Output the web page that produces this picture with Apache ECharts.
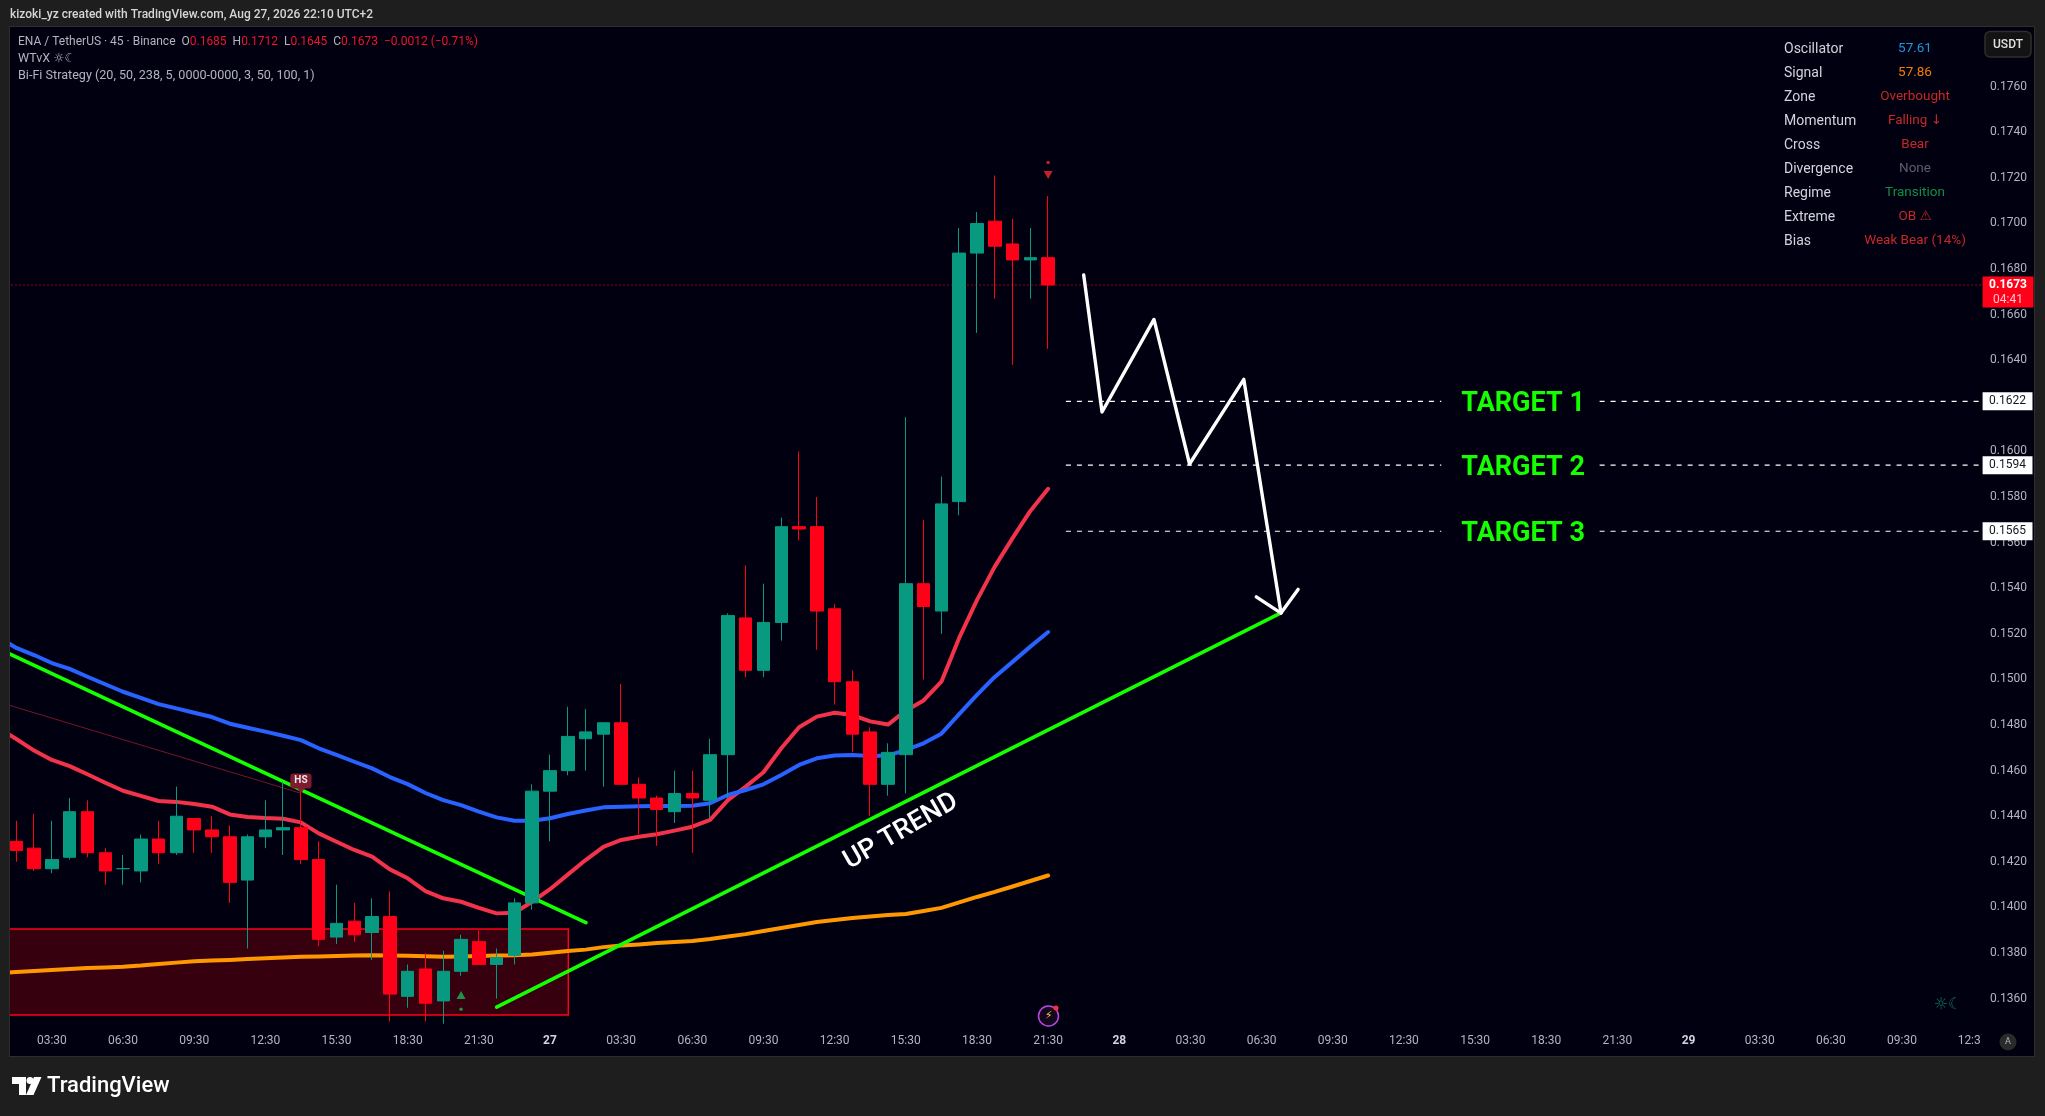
<!DOCTYPE html>
<html><head><meta charset="utf-8">
<style>html,body{margin:0;padding:0;background:#1e1e1e}#c{width:2045px;height:1116px}</style>
<script src="https://cdn.jsdelivr.net/npm/echarts@6/dist/echarts.min.js"></script>
</head><body><div id="c"></div>
<script>
const FONT='Roboto, sans-serif';
const tickLabels=['03:30','06:30','09:30','12:30','15:30','18:30','21:30','27','03:30','06:30','09:30','12:30','15:30','18:30','21:30','28','03:30','06:30','09:30','12:30','15:30','18:30','21:30','29','03:30','06:30','09:30','12:3'];
const yTicks=[0.136,0.138,0.14,0.142,0.144,0.146,0.148,0.15,0.152,0.154,0.156,0.158,0.16,0.162,0.164,0.166,0.168,0.17,0.172,0.174,0.176];
const opens =[0.1429,0.1426,0.1417,0.1422,0.1442,0.1424,0.1417,0.1416,0.1430,0.1424,0.1439,0.1434,0.1431,0.1412,0.1431,0.1434,0.1435,0.1421,0.1387,0.1394,0.1389,0.1396,0.1361,0.1373,0.1359,0.1372,0.1385,0.1375,0.1379,0.1402,0.1451,0.1460,0.1474,0.1476,0.1481,0.1454,0.1448,0.1442,0.1450,0.1447,0.1467,0.1527,0.1504,0.1525,0.1567,0.1567,0.1531,0.1499,0.1477,0.1454,0.1467,0.1542,0.1530,0.1578,0.1687,0.1701,0.1691,0.1684,0.1685];
const closes=[0.1425,0.1417,0.1421,0.1442,0.1424,0.1416,0.1417,0.1430,0.1424,0.1440,0.1434,0.1431,0.1411,0.1431,0.1434,0.1435,0.1421,0.1386,0.1393,0.1388,0.1396,0.1362,0.1372,0.1358,0.1372,0.1386,0.1375,0.1378,0.1402,0.1451,0.1460,0.1475,0.1477,0.1481,0.1454,0.1448,0.1443,0.1450,0.1448,0.1467,0.1528,0.1504,0.1525,0.1567,0.1566,0.1530,0.1499,0.1476,0.1454,0.1468,0.1542,0.1532,0.1577,0.1687,0.1700,0.1690,0.1684,0.1685,0.1673];
const highs =[0.1438,0.1441,0.1438,0.1448,0.1447,0.1426,0.1423,0.1432,0.1438,0.1453,0.1439,0.1440,0.1436,0.1432,0.1447,0.1455,0.1451,0.1429,0.1410,0.1402,0.1404,0.1407,0.1375,0.1380,0.1381,0.1388,0.1390,0.1382,0.1404,0.1454,0.1467,0.1488,0.1487,0.1481,0.1498,0.1457,0.1449,0.1460,0.1460,0.1474,0.1529,0.1550,0.1542,0.1571,0.1600,0.1580,0.1533,0.1504,0.1479,0.1472,0.1615,0.1570,0.1589,0.1698,0.1705,0.1721,0.1702,0.1698,0.1712];
const lows  =[0.1420,0.1416,0.1415,0.1421,0.1422,0.1410,0.1410,0.1411,0.1419,0.1423,0.1424,0.1424,0.1402,0.1382,0.1426,0.1423,0.1419,0.1383,0.1384,0.1385,0.1377,0.1350,0.1356,0.1350,0.1349,0.1370,0.1375,0.1360,0.1375,0.1399,0.1429,0.1458,0.1460,0.1453,0.1454,0.1432,0.1427,0.1437,0.1424,0.1439,0.1448,0.1501,0.1501,0.1517,0.1561,0.1513,0.1489,0.1468,0.1440,0.1449,0.1450,0.1500,0.1520,0.1572,0.1652,0.1667,0.1638,0.1667,0.1645];
// Moving averages: first value sits one bar left of the first candle
const maRed=[0.14787,0.14739,0.14688,0.14647,0.14620,0.14584,0.14547,0.14512,0.14489,0.14467,0.14463,0.14454,0.14442,0.14408,0.14397,0.14392,0.14389,0.14373,0.14325,0.14288,0.14252,0.14223,0.14167,0.14128,0.14072,0.14040,0.14025,0.13998,0.13974,0.13977,0.14025,0.14080,0.14144,0.14208,0.14266,0.14296,0.14310,0.14321,0.14337,0.14354,0.14384,0.14471,0.14530,0.14593,0.14698,0.14790,0.14837,0.14854,0.14844,0.14816,0.14802,0.14863,0.14908,0.14990,0.15182,0.15348,0.15495,0.15620,0.15739,0.15836];
const maBlue=[0.15186,0.15138,0.15107,0.15072,0.15046,0.15012,0.14979,0.14946,0.14919,0.14892,0.14873,0.14854,0.14835,0.14806,0.14788,0.14771,0.14753,0.14734,0.14698,0.14669,0.14639,0.14610,0.14572,0.14541,0.14502,0.14471,0.14449,0.14420,0.14395,0.14380,0.14380,0.14391,0.14410,0.14425,0.14439,0.14442,0.14444,0.14445,0.14445,0.14446,0.14457,0.14493,0.14515,0.14540,0.14581,0.14625,0.14654,0.14666,0.14669,0.14664,0.14666,0.14691,0.14720,0.14762,0.14848,0.14932,0.15011,0.15077,0.15144,0.15208];
const maOrange=[0.13712,0.13717,0.13721,0.13726,0.13730,0.13734,0.13737,0.13740,0.13745,0.13752,0.13758,0.13764,0.13767,0.13770,0.13774,0.13777,0.13780,0.13784,0.13785,0.13787,0.13789,0.13790,0.13789,0.13788,0.13786,0.13784,0.13785,0.13787,0.13789,0.13790,0.13794,0.13801,0.13809,0.13815,0.13826,0.13833,0.13838,0.13844,0.13848,0.13853,0.13862,0.13873,0.13883,0.13897,0.13910,0.13923,0.13936,0.13945,0.13954,0.13960,0.13967,0.13971,0.13984,0.13998,0.14022,0.14046,0.14068,0.14092,0.14116,0.14140];
const trendDown=[[-1,0.15135],[32.02,0.13933]];
const trendUp=[[27,0.13563],[71.06,0.15291]];
const thinRed=[[-1,0.14901],[15.95,0.14502]];
const arrowPath=[[60,0.16774],[61.03,0.16173],[63.95,0.16579],[65.95,0.15945],[69,0.16316],[71.09,0.15291]];
const arrowHead=[[69.7,0.15362],[71.09,0.15291],[72.05,0.15395]];
const targets=[0.1622,0.1594,0.1565];
const targetNames=['TARGET 1','TARGET 2','TARGET 3'];
const lastPrice=0.1673, countdown='04:41';
const zoneBox=[[-1,0.13905],[31.03,0.13528]];
const tableLabels=['Oscillator','Signal','Zone','Momentum','Cross','Divergence','Regime','Extreme','Bias'];
const tableValues=['57.61','57.86','Overbought','Falling ↓','Bear','None','Transition','OB ⚠','Weak Bear (14%)'];
const tableColors=['#1e96e0','#f57c00','#c62828','#c62828','#c62828','#5d5f6b','#0f8f45','#c62828','#c62828'];

const categories=Array.from({length:111},(_,i)=>(i>=2&&(i-2)%4===0)?tickLabels[(i-2)/4]:'');
const indexed=a=>a.map((v,i)=>[i-1,v]);
const lineSeries=(name,data,color,width,z,extra)=>Object.assign({name,type:'line',xAxisIndex:1,data,symbol:'none',silent:true,z,
  lineStyle:{color,width,cap:'round',join:'round'}},extra||{});

const series=[
 lineSeries('zone',[],'#000',0,1,{markArea:{silent:true,itemStyle:{color:'#36000f',borderColor:'#ff0018',borderWidth:1.5},
   data:[[{xAxis:zoneBox[0][0],yAxis:zoneBox[0][1]},{xAxis:zoneBox[1][0],yAxis:zoneBox[1][1]}]]}}),
 lineSeries('thin',thinRed,'#7a1526',1,2),
 lineSeries('lastPrice',[[-0.5,lastPrice],[110.5,lastPrice]],'#ff0018',1,2,{lineStyle:{color:'#ff0018',width:1,type:[1.2,2.8]}}),
 lineSeries('orange',indexed(maOrange),'#ff9800',4,3),
 lineSeries('red',indexed(maRed),'#f2334b',4,3),
 lineSeries('blue',indexed(maBlue),'#2962ff',4,3),
 lineSeries('trendDown',trendDown,'#14ff00',3.6,4),
 lineSeries('trendUp',trendUp,'#14ff00',3.6,4),
 lineSeries('arrow',arrowPath,'#ffffff',3.4,7),
 lineSeries('arrowHead',arrowHead,'#ffffff',3.4,7),
 {type:'candlestick',xAxisIndex:0,z:5,barWidth:13,silent:true,
  data:opens.map((o,i)=>[o,closes[i],lows[i],highs[i]]),
  itemStyle:{color:'#089981',color0:'#ff0018',borderColor:'#089981',borderColor0:'#ff0018',borderWidth:1}}
];
targets.forEach((t,i)=>{
 series.push(lineSeries('t'+i,[[59,t],[80.1,t],null,[89,t],[110.5,t]],'#fff',1.2,6,{connectNulls:false,lineStyle:{color:'#fff',width:1.2,type:[5,6]}}));
});
const noSym={symbol:'circle',symbolSize:1,itemStyle:{color:'rgba(0,0,0,0)',opacity:1}};
const annotations=[
 ...targets.map((t,i)=>({value:[84.7,t],...noSym,label:{show:true,position:'inside',offset:[0,3],formatter:targetNames[i],color:'#14ff00',fontSize:27,fontWeight:700,fontFamily:FONT}})),
 ...targets.map(t=>({value:[110.5,t],...noSym,label:{show:true,position:'right',distance:0,formatter:t.toFixed(4),backgroundColor:'#ffffff',color:'#131722',fontSize:12,fontFamily:FONT,lineHeight:18,padding:[0,6.5]}})),
 {value:[110.5,lastPrice],...noSym,label:{show:true,position:'right',distance:0,offset:[0,7],padding:[1,6.5],
   formatter:'{a|'+lastPrice.toFixed(4)+'}\n{b|'+countdown+'}',backgroundColor:'#ff0018',
   rich:{a:{color:'#fff',fontSize:12,fontWeight:700,fontFamily:FONT,lineHeight:15,align:'center'},b:{color:'#ffc9cf',fontSize:12,fontFamily:FONT,lineHeight:14,align:'center'}}}},
 {value:[49.6,0.14342],...noSym,label:{show:true,position:'inside',offset:[1,3],formatter:'UP TREND',rotate:30,color:'#ffffff',fontSize:27,fontWeight:500,fontFamily:FONT}},
 {value:[16,0.14515],symbol:'triangle',symbolRotate:180,symbolSize:[10,7],itemStyle:{color:'#8a1c30',opacity:1}},
 {value:[16,0.14555],...noSym,label:{show:true,position:'inside',formatter:'HS',backgroundColor:'#7f1b2f',borderRadius:3,padding:[0,4],lineHeight:15,color:'#e8e8ea',fontSize:10,fontWeight:700,fontFamily:FONT}},
 {value:[25,0.13616],symbol:'triangle',symbolSize:[9,8],itemStyle:{color:'#1f9148',opacity:1}},
 {value:[25,0.13553],symbol:'circle',symbolSize:3.5,itemStyle:{color:'#1f9148',opacity:1}},
 {value:[58,0.17212],symbol:'triangle',symbolRotate:180,symbolSize:[9,8],itemStyle:{color:'#c3202b',opacity:1}},
 {value:[58,0.17267],symbol:'circle',symbolSize:3.5,itemStyle:{color:'#c3202b',opacity:1}}
];
series.push({type:'scatter',xAxisIndex:1,z:9,clip:false,silent:true,itemStyle:{opacity:1},data:annotations});

const g=[];
const txt=(x,y,text,o)=>g.push({type:'text',z:110,silent:true,x,y,style:Object.assign({text,fontFamily:FONT,fontSize:12,fill:'#d1d4dc',verticalAlign:'middle',align:'left'},o||{})});
const rect=(x,y,w,h,fill,r,stroke)=>g.push({type:'rect',z:100,silent:true,shape:{x,y,width:w,height:h,r:r||0},style:{fill,stroke:stroke||null,lineWidth:stroke?1.5:0}});
rect(0,0,10,1116,'#1e1e1e');rect(0,0,2045,26,'#1e1e1e');rect(2035,0,10,1116,'#1e1e1e');rect(0,1057,2045,59,'#1e1e1e');
rect(9,26,1,1031,'#2e2e2e');rect(9,26,2026,1,'#2e2e2e');rect(2034,26,1,1031,'#2e2e2e');rect(9,1056,2026,1,'#2e2e2e');
txt(10,15,'kizoki_yz created with TradingView.com, Aug 27, 2026 22:10 UTC+2',{fontWeight:500,fontSize:12,fill:'#d6d6d6'});
g.push({type:'text',z:110,silent:true,x:18,y:42,style:{text:'{g|ENA / TetherUS · 45 · Binance  O}{r|0.1685}{g|  H}{r|0.1712}{g|  L}{r|0.1645}{g|  C}{r|0.1673}{r|  −0.0012 (−0.71%)}',verticalAlign:'middle',
  rich:{g:{fill:'#b2b5be',fontSize:12,fontFamily:FONT},r:{fill:'#f0142d',fontSize:12,fontFamily:FONT}}}});
txt(18,59,'WTvX ☼☾',{fill:'#b2b5be',fontFamily:'Roboto, "DejaVu Sans"',fontSize:12.5});
txt(18,75.5,'Bi-Fi Strategy (20, 50, 238, 5, 0000-0000, 3, 50, 100, 1)',{fill:'#b2b5be',fontSize:12.6});
tableLabels.forEach((l,i)=>{
 txt(1784,49+24*i,l,{fontSize:14,fill:'#d1d4dc'});
 txt(1915,49+24*i,tableValues[i],{fontSize:13.5,fill:tableColors[i],align:'center',fontFamily:'Roboto, "DejaVu Sans"'});
});
rect(1985,31.5,46,25.5,'#131313',5,'#2f2f2f');
txt(2008,44.5,'USDT',{fontSize:12,fontWeight:500,align:'center',fill:'#e0e0e0'});
// TradingView mark
g.push({type:'polygon',z:110,silent:true,shape:{points:[[12,1077],[26,1077],[26,1095],[19,1095],[19,1084],[12,1084]]},style:{fill:'#fff'}});
g.push({type:'circle',z:110,silent:true,shape:{cx:30,cy:1080.5,r:3.5},style:{fill:'#fff'}});
g.push({type:'polygon',z:110,silent:true,shape:{points:[[34,1077],[41.5,1077],[33.5,1095],[26,1095]]},style:{fill:'#fff'}});
txt(47,1086,'TradingView',{fontSize:22,fontWeight:500,fill:'#ffffff'});
// small panel icons
g.push({type:'circle',z:110,silent:true,shape:{cx:2008,cy:1042,r:8.5},style:{fill:'#2a2a2a'}});
txt(2008,1042,'A',{fontSize:9,align:'center',fill:'#b2b5be'});
txt(1948,1005,'☼☾',{fontSize:16,align:'center',fill:'#0b7a66',fontFamily:'"DejaVu Sans"'});
g.push({type:'circle',z:110,silent:true,shape:{cx:1048.5,cy:1016,r:10},style:{fill:'#15061f',stroke:'#b44be0',lineWidth:1.5}});
txt(1048.5,1016,'⚡',{fontSize:11,align:'center',fill:'#f0c040',fontFamily:'"DejaVu Sans"'});
g.push({type:'circle',z:111,silent:true,shape:{cx:1056,cy:1008,r:2.5},style:{fill:'#ff2d3a'}});

const chart=echarts.init(document.getElementById('c'),null,{renderer:'canvas',width:2045,height:1116});
chart.setOption({
 animation:false,backgroundColor:'#000010',
 grid:{left:7.41,top:27,width:1974.69,height:997,containLabel:false},
 xAxis:[
  {type:'category',data:categories,boundaryGap:true,axisLine:{show:false},axisTick:{show:false},splitLine:{show:false},
   axisLabel:{show:true,interval:(i,v)=>v!=='',margin:11,color:'#b2b5be',fontSize:12,fontFamily:FONT,
    formatter:v=>/^\d\d$/.test(v)?'{d|'+v+'}':(v==='12:3'?'{c|'+v+'}':v),
    rich:{d:{color:'#d1d4dc',fontWeight:700,fontSize:12,fontFamily:FONT},c:{color:'#b2b5be',fontSize:12,fontFamily:FONT,padding:[0,8,0,0]}}}},
  {type:'value',show:false,min:-0.5,max:110.5,splitLine:{show:false}}
 ],
 yAxis:{type:'value',position:'right',min:0.134888,max:0.178616,scale:true,axisLine:{show:false},axisTick:{show:false},splitLine:{show:false},
  axisLabel:{show:true,margin:8,padding:[2,0,0,0],color:'#b2b5be',fontSize:12,fontFamily:FONT,customValues:yTicks,formatter:v=>Number(v).toFixed(4)}},
 series,graphic:{elements:g}
});
</script></body></html>
